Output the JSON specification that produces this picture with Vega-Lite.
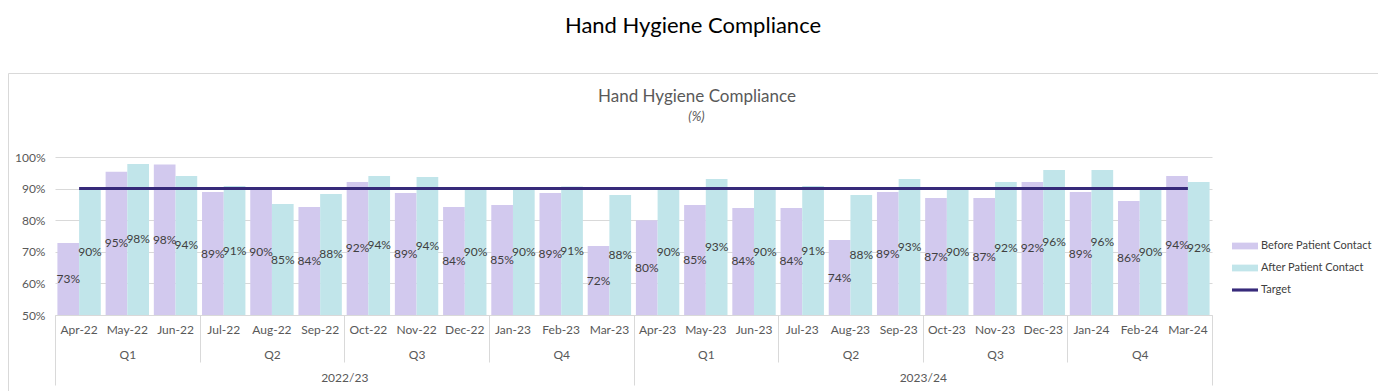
{
  "$schema": "https://vega.github.io/schema/vega-lite/v6.json",
  "autosize": {"type": "pad"},
  "padding": {"left": 8, "top": 15, "right": 0, "bottom": 0},
  "background": "white",
  "width": 1370,
  "height": 318,
  "config": {
    "font": "Lato",
    "view": {"stroke": "#d9d9d9", "strokeWidth": 1}
  },
  "title": {
    "text": "Hand Hygiene Compliance",
    "fontSize": 22,
    "fontWeight": "normal",
    "color": "#000000",
    "anchor": "middle",
    "offset": 35
  },
  "datasets": {
    "bars": [
      {"month": "Apr-22", "series": "Before Patient Contact", "value": 0.728},
      {"month": "Apr-22", "series": "After Patient Contact", "value": 0.899},
      {"month": "May-22", "series": "Before Patient Contact", "value": 0.953},
      {"month": "May-22", "series": "After Patient Contact", "value": 0.978},
      {"month": "Jun-22", "series": "Before Patient Contact", "value": 0.976},
      {"month": "Jun-22", "series": "After Patient Contact", "value": 0.940},
      {"month": "Jul-22", "series": "Before Patient Contact", "value": 0.889},
      {"month": "Jul-22", "series": "After Patient Contact", "value": 0.908},
      {"month": "Aug-22", "series": "Before Patient Contact", "value": 0.900},
      {"month": "Aug-22", "series": "After Patient Contact", "value": 0.851},
      {"month": "Sep-22", "series": "Before Patient Contact", "value": 0.842},
      {"month": "Sep-22", "series": "After Patient Contact", "value": 0.883},
      {"month": "Oct-22", "series": "Before Patient Contact", "value": 0.921},
      {"month": "Oct-22", "series": "After Patient Contact", "value": 0.940},
      {"month": "Nov-22", "series": "Before Patient Contact", "value": 0.886},
      {"month": "Nov-22", "series": "After Patient Contact", "value": 0.937},
      {"month": "Dec-22", "series": "Before Patient Contact", "value": 0.842},
      {"month": "Dec-22", "series": "After Patient Contact", "value": 0.900},
      {"month": "Jan-23", "series": "Before Patient Contact", "value": 0.848},
      {"month": "Jan-23", "series": "After Patient Contact", "value": 0.900},
      {"month": "Feb-23", "series": "Before Patient Contact", "value": 0.886},
      {"month": "Feb-23", "series": "After Patient Contact", "value": 0.907},
      {"month": "Mar-23", "series": "Before Patient Contact", "value": 0.718},
      {"month": "Mar-23", "series": "After Patient Contact", "value": 0.880},
      {"month": "Apr-23", "series": "Before Patient Contact", "value": 0.800},
      {"month": "Apr-23", "series": "After Patient Contact", "value": 0.900},
      {"month": "May-23", "series": "Before Patient Contact", "value": 0.848},
      {"month": "May-23", "series": "After Patient Contact", "value": 0.930},
      {"month": "Jun-23", "series": "Before Patient Contact", "value": 0.839},
      {"month": "Jun-23", "series": "After Patient Contact", "value": 0.900},
      {"month": "Jul-23", "series": "Before Patient Contact", "value": 0.839},
      {"month": "Jul-23", "series": "After Patient Contact", "value": 0.908},
      {"month": "Aug-23", "series": "Before Patient Contact", "value": 0.737},
      {"month": "Aug-23", "series": "After Patient Contact", "value": 0.880},
      {"month": "Sep-23", "series": "Before Patient Contact", "value": 0.889},
      {"month": "Sep-23", "series": "After Patient Contact", "value": 0.930},
      {"month": "Oct-23", "series": "Before Patient Contact", "value": 0.870},
      {"month": "Oct-23", "series": "After Patient Contact", "value": 0.900},
      {"month": "Nov-23", "series": "Before Patient Contact", "value": 0.870},
      {"month": "Nov-23", "series": "After Patient Contact", "value": 0.921},
      {"month": "Dec-23", "series": "Before Patient Contact", "value": 0.921},
      {"month": "Dec-23", "series": "After Patient Contact", "value": 0.959},
      {"month": "Jan-24", "series": "Before Patient Contact", "value": 0.889},
      {"month": "Jan-24", "series": "After Patient Contact", "value": 0.959},
      {"month": "Feb-24", "series": "Before Patient Contact", "value": 0.861},
      {"month": "Feb-24", "series": "After Patient Contact", "value": 0.900},
      {"month": "Mar-24", "series": "Before Patient Contact", "value": 0.940},
      {"month": "Mar-24", "series": "After Patient Contact", "value": 0.921}
    ],
    "months": [
      {"month": "Apr-22", "quarter": "2022/23 Q1", "year": "2022/23", "target": 0.9},
      {"month": "May-22", "quarter": "2022/23 Q1", "year": "2022/23", "target": 0.9},
      {"month": "Jun-22", "quarter": "2022/23 Q1", "year": "2022/23", "target": 0.9},
      {"month": "Jul-22", "quarter": "2022/23 Q2", "year": "2022/23", "target": 0.9},
      {"month": "Aug-22", "quarter": "2022/23 Q2", "year": "2022/23", "target": 0.9},
      {"month": "Sep-22", "quarter": "2022/23 Q2", "year": "2022/23", "target": 0.9},
      {"month": "Oct-22", "quarter": "2022/23 Q3", "year": "2022/23", "target": 0.9},
      {"month": "Nov-22", "quarter": "2022/23 Q3", "year": "2022/23", "target": 0.9},
      {"month": "Dec-22", "quarter": "2022/23 Q3", "year": "2022/23", "target": 0.9},
      {"month": "Jan-23", "quarter": "2022/23 Q4", "year": "2022/23", "target": 0.9},
      {"month": "Feb-23", "quarter": "2022/23 Q4", "year": "2022/23", "target": 0.9},
      {"month": "Mar-23", "quarter": "2022/23 Q4", "year": "2022/23", "target": 0.9},
      {"month": "Apr-23", "quarter": "2023/24 Q1", "year": "2023/24", "target": 0.9},
      {"month": "May-23", "quarter": "2023/24 Q1", "year": "2023/24", "target": 0.9},
      {"month": "Jun-23", "quarter": "2023/24 Q1", "year": "2023/24", "target": 0.9},
      {"month": "Jul-23", "quarter": "2023/24 Q2", "year": "2023/24", "target": 0.9},
      {"month": "Aug-23", "quarter": "2023/24 Q2", "year": "2023/24", "target": 0.9},
      {"month": "Sep-23", "quarter": "2023/24 Q2", "year": "2023/24", "target": 0.9},
      {"month": "Oct-23", "quarter": "2023/24 Q3", "year": "2023/24", "target": 0.9},
      {"month": "Nov-23", "quarter": "2023/24 Q3", "year": "2023/24", "target": 0.9},
      {"month": "Dec-23", "quarter": "2023/24 Q3", "year": "2023/24", "target": 0.9},
      {"month": "Jan-24", "quarter": "2023/24 Q4", "year": "2023/24", "target": 0.9},
      {"month": "Feb-24", "quarter": "2023/24 Q4", "year": "2023/24", "target": 0.9},
      {"month": "Mar-24", "quarter": "2023/24 Q4", "year": "2023/24", "target": 0.9}
    ],
    "subtitle": [{"unit": "(%)"}]
  },
  "layer": [
    {
      "data": {"name": "bars"},
      "mark": {"type": "bar"},
      "encoding": {
        "x": {
          "field": "month",
          "type": "ordinal",
          "scale": {
            "type": "band",
            "domain": ["Apr-22", "May-22", "Jun-22", "Jul-22", "Aug-22", "Sep-22", "Oct-22", "Nov-22", "Dec-22", "Jan-23", "Feb-23", "Mar-23", "Apr-23", "May-23", "Jun-23", "Jul-23", "Aug-23", "Sep-23", "Oct-23", "Nov-23", "Dec-23", "Jan-24", "Feb-24", "Mar-24"],
            "range": [47, 1204],
            "paddingInner": 0.1,
            "paddingOuter": 0.05
          },
          "axis": {
            "orient": "bottom",
            "offset": -76,
            "title": null,
            "domain": false,
            "ticks": false,
            "tickSize": 0,
            "grid": false,
            "labelAngle": 0,
            "labelPadding": 9,
            "labelFontSize": 12,
            "labelColor": "#595959",
            "labelOverlap": false,
            "labelBound": false
          }
        },
        "xOffset": {
          "field": "series",
          "type": "nominal",
          "scale": {"domain": ["Before Patient Contact", "After Patient Contact"], "paddingInner": 0, "paddingOuter": 0}
        },
        "y": {
          "field": "value",
          "type": "quantitative",
          "scale": {"domain": [0.5, 1.0], "range": [242, 84], "nice": false, "zero": false},
          "axis": {
            "orient": "left",
            "offset": -47,
            "title": null,
            "values": [0.5, 0.6, 0.7, 0.8, 0.9, 1.0],
            "format": ".0%",
            "domain": false,
            "ticks": false,
            "tickSize": 0,
            "labelPadding": 10,
            "labelFontSize": 12,
            "labelColor": "#595959",
            "grid": true,
            "gridColor": "#d9d9d9",
            "gridWidth": 1
          }
        },
        "y2": {"datum": 0.5},
        "color": {
          "field": "series",
          "type": "nominal",
          "scale": {
            "domain": ["Before Patient Contact", "After Patient Contact", "Target"],
            "range": ["#d2c9ee", "#c1e5ea", "#372a7a"]
          },
          "legend": {
            "title": null,
            "orient": "none",
            "legendX": 1224,
            "legendY": 160,
            "symbolType": "M-1,-0.26H1V0.26H-1Z",
            "symbolSize": 676,
            "symbolStrokeWidth": 0,
            "rowPadding": 4,
            "labelOffset": 3,
            "labelFontSize": 11,
            "labelColor": "#404040",
            "encode": {
              "symbols": {
                "update": {
                  "shape": {"signal": "datum.value === 'Target' ? 'M-1,-0.12H1V0.12H-1Z' : 'M-1,-0.26H1V0.26H-1Z'"},
                  "fill": {"scale": "color", "field": "value"},
                  "strokeWidth": {"value": 0},
                  "opacity": {"value": 1}
                }
              }
            }
          }
        }
      }
    },
    {
      "data": {"name": "months"},
      "mark": {"type": "line", "strokeWidth": 3},
      "encoding": {
        "x": {
          "field": "month",
          "type": "ordinal",
          "scale": {
            "type": "band",
            "domain": ["Apr-22", "May-22", "Jun-22", "Jul-22", "Aug-22", "Sep-22", "Oct-22", "Nov-22", "Dec-22", "Jan-23", "Feb-23", "Mar-23", "Apr-23", "May-23", "Jun-23", "Jul-23", "Aug-23", "Sep-23", "Oct-23", "Nov-23", "Dec-23", "Jan-24", "Feb-24", "Mar-24"],
            "range": [47, 1204],
            "paddingInner": 0.1,
            "paddingOuter": 0.05
          },
          "axis": null
        },
        "y": {"field": "target", "type": "quantitative"},
        "color": {"datum": "Target"}
      }
    },
    {
      "data": {"name": "bars"},
      "transform": [{"calculate": "(datum.value + 0.5) / 2", "as": "mid"}],
      "mark": {"type": "text", "fontSize": 12, "color": "#404040", "baseline": "middle", "align": "center"},
      "encoding": {
        "x": {
          "field": "month",
          "type": "ordinal",
          "scale": {
            "type": "band",
            "domain": ["Apr-22", "May-22", "Jun-22", "Jul-22", "Aug-22", "Sep-22", "Oct-22", "Nov-22", "Dec-22", "Jan-23", "Feb-23", "Mar-23", "Apr-23", "May-23", "Jun-23", "Jul-23", "Aug-23", "Sep-23", "Oct-23", "Nov-23", "Dec-23", "Jan-24", "Feb-24", "Mar-24"],
            "range": [47, 1204],
            "paddingInner": 0.1,
            "paddingOuter": 0.05
          },
          "axis": null
        },
        "xOffset": {
          "field": "series",
          "type": "nominal",
          "scale": {"domain": ["Before Patient Contact", "After Patient Contact"], "paddingInner": 0, "paddingOuter": 0}
        },
        "y": {"field": "mid", "type": "quantitative"},
        "text": {"field": "value", "type": "quantitative", "format": ".0%"}
      }
    },
    {
      "data": {"name": "months"},
      "mark": {"type": "point", "opacity": 0},
      "encoding": {
        "x": {
          "field": "quarter",
          "type": "ordinal",
          "scale": {
            "type": "band",
            "domain": ["2022/23 Q1", "2022/23 Q2", "2022/23 Q3", "2022/23 Q4", "2023/24 Q1", "2023/24 Q2", "2023/24 Q3", "2023/24 Q4"],
            "range": [47, 1204],
            "paddingInner": 0,
            "paddingOuter": 0
          },
          "axis": {
            "orient": "bottom",
            "offset": -76,
            "title": null,
            "domain": false,
            "ticks": true,
            "tickBand": "extent",
            "tickSize": 47,
            "tickColor": "#d9d9d9",
            "tickWidth": 1,
            "grid": false,
            "labelAngle": 0,
            "labelPadding": -13,
            "labelFontSize": 12,
            "labelColor": "#595959",
            "labelExpr": "slice(datum.label, -2)",
            "labelOverlap": false,
            "labelBound": false
          }
        }
      }
    },
    {
      "data": {"name": "months"},
      "mark": {"type": "point", "opacity": 0},
      "encoding": {
        "x": {
          "field": "year",
          "type": "ordinal",
          "scale": {
            "type": "band",
            "domain": ["2022/23", "2023/24"],
            "range": [47, 1204],
            "paddingInner": 0,
            "paddingOuter": 0
          },
          "axis": {
            "orient": "bottom",
            "offset": -76,
            "title": null,
            "domain": false,
            "ticks": true,
            "tickBand": "extent",
            "tickSize": 70,
            "tickColor": "#d9d9d9",
            "tickWidth": 1,
            "grid": false,
            "labelAngle": 0,
            "labelPadding": -13,
            "labelFontSize": 12,
            "labelColor": "#595959",
            "labelOverlap": false,
            "labelBound": false
          }
        }
      }
    },
    {
      "data": {"name": "subtitle"},
      "mark": {"type": "point", "opacity": 0},
      "encoding": {
        "x": {
          "field": "unit",
          "type": "ordinal",
          "scale": {"type": "band", "range": [0, 1377], "paddingInner": 0, "paddingOuter": 0},
          "axis": {
            "orient": "top",
            "offset": -51,
            "domain": false,
            "ticks": false,
            "tickSize": 0,
            "grid": false,
            "labelAngle": 0,
            "labelPadding": 1,
            "labelFontSize": 13,
            "labelFontStyle": "italic",
            "labelColor": "#595959",
            "title": "Hand Hygiene Compliance",
            "titleFontSize": 17,
            "titleFontWeight": "normal",
            "titleColor": "#595959",
            "titlePadding": 5
          }
        }
      }
    }
  ],
  "resolve": {"scale": {"x": "independent"}, "axis": {"x": "independent"}}
}
